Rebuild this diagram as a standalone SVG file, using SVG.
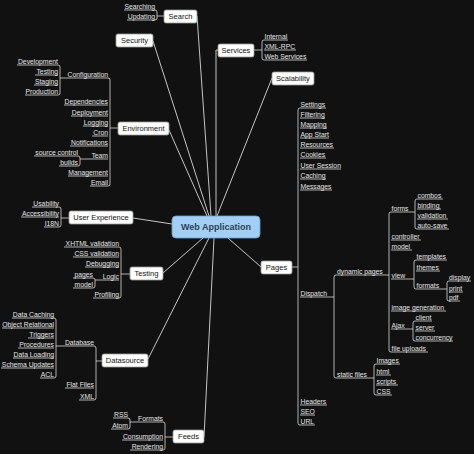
<svg xmlns="http://www.w3.org/2000/svg" width="474" height="454" viewBox="0 0 474 454">
<style>
.t{font-family:"Liberation Sans",Arial,sans-serif;font-size:6.8px;fill:#e6e6e6}
.e{text-anchor:end}
.u,.b,.c{fill:none;stroke:#d8d8d8;stroke-width:0.8}
.c{stroke-width:0.9}
.nb{fill:#ffffff;stroke:#9a9a9a;stroke-width:0.8}
.nt{font-family:"Liberation Sans",Arial,sans-serif;font-size:7.5px;fill:#111;text-anchor:middle}
</style>
<rect width="474" height="454" fill="#111111"/>
<g id="connectors">
<path class="c" d="M197 16L211 216"/>
<path class="c" d="M153 41L209 216"/>
<path class="c" d="M218 50H216V216"/>
<path class="c" d="M272 78L217 216"/>
<path class="c" d="M169 130L207 216"/>
<path class="c" d="M133 218L172 224"/>
<path class="c" d="M163 273L203 238"/>
<path class="c" d="M148 359L209 238"/>
<path class="c" d="M204 437L214 238"/>
<path class="c" d="M261 267L228 238"/>
<!-- brackets left -->
<path class="b" d="M155 10Q157 10 157 12V18Q157 20 155 20M157 16H164"/>
<path class="b" d="M108 78Q110 78 110 80V184Q110 186 108 186M110 128H118"/>
<path class="b" d="M58 65Q60 65 60 67V93Q60 95 58 95"/>
<path class="b" d="M78 156Q80 156 80 158V164Q80 166 78 166"/>
<path class="b" d="M59 207Q61 207 61 209V225Q61 227 59 227M61 218H69"/>
<path class="b" d="M119 247Q121 247 121 249V296Q121 298 119 298M121 274H130"/>
<path class="b" d="M93 278Q95 278 95 280V286Q95 288 93 288"/>
<path class="b" d="M94 346Q96 346 96 348V398Q96 400 94 400M96 361H102"/>
<path class="b" d="M54 318Q56 318 56 320V376Q56 378 54 378"/>
<path class="b" d="M163 422Q165 422 165 424V448Q165 450 163 450M165 437H173"/>
<path class="b" d="M128 418Q130 418 130 420V427Q130 429 128 429"/>
<!-- brackets right -->
<path class="b" d="M264 40Q262 40 262 42V58Q262 60 264 60M254 50H262"/>
<path class="b" d="M300 108Q298 108 298 110V423Q298 425 300 425M292 267H298"/>
<path class="b" d="M336 275Q334 275 334 277V376Q334 378 336 378"/>
<path class="b" d="M391 212Q389 212 389 214V350Q389 352 391 352"/>
<path class="b" d="M417 199Q415 199 415 201V227Q415 229 417 229"/>
<path class="b" d="M416 260Q414 260 414 262V287Q414 289 416 289"/>
<path class="b" d="M449 281Q447 281 447 283V299Q447 301 449 301"/>
<path class="b" d="M415 321Q413 321 413 323V339Q413 341 415 341"/>
<path class="b" d="M376 364Q374 364 374 366V393Q374 395 376 395"/>
</g>
<g id="n-web-application"><rect x="172" y="216" width="88" height="22" rx="4" fill="#a3cff5" stroke="#6f9fcf" stroke-width="0.8"/><text x="216" y="230" font-family="Liberation Sans,Arial,sans-serif" font-size="9" font-weight="bold" fill="#2b3f5c" text-anchor="middle">Web Application</text></g>
<g id="n-search"><rect class="nb" x="164" y="10" width="33" height="13" rx="2"/><text class="nt" x="180.5" y="19.2">Search</text></g>
<g id="n-security"><rect class="nb" x="116" y="34" width="37" height="13" rx="2"/><text class="nt" x="134.5" y="43.2">Security</text></g>
<g id="n-services"><rect class="nb" x="218" y="44" width="36" height="13" rx="2"/><text class="nt" x="236" y="53.2">Services</text></g>
<g id="n-scalability"><rect class="nb" x="272" y="72" width="42" height="13" rx="2"/><text class="nt" x="293" y="81.2">Scalability</text></g>
<g id="n-environment"><rect class="nb" x="118" y="122" width="51" height="13" rx="2"/><text class="nt" x="143.5" y="131.2">Environment</text></g>
<g id="n-user-experience"><rect class="nb" x="69" y="211" width="64" height="13" rx="2"/><text class="nt" x="101" y="220.2">User Experience</text></g>
<g id="n-testing"><rect class="nb" x="130" y="267" width="33" height="13" rx="2"/><text class="nt" x="146.5" y="276.2">Testing</text></g>
<g id="n-datasource"><rect class="nb" x="102" y="354" width="46" height="13" rx="2"/><text class="nt" x="125" y="363.2">Datasource</text></g>
<g id="n-feeds"><rect class="nb" x="173" y="430" width="31" height="13" rx="2"/><text class="nt" x="188.5" y="439.2">Feeds</text></g>
<g id="n-pages"><rect class="nb" x="261" y="261" width="31" height="13" rx="2"/><text class="nt" x="276.5" y="270.2">Pages</text></g>
<!-- Search leaves -->
<g id="l-searching"><text class="t e" x="155" y="8.6">Searching</text><path class="u" d="M124 10H155"/></g>
<g id="l-updating"><text class="t e" x="155" y="18.6">Updating</text><path class="u" d="M127 20H155"/></g>
<!-- Environment -->
<g id="l-configuration"><text class="t e" x="108" y="76.6">Configuration</text><path class="u" d="M60 78H108"/></g>
<g id="l-development"><text class="t e" x="58" y="63.6">Development</text><path class="u" d="M17 65H58"/></g>
<g id="l-testing"><text class="t e" x="58" y="73.6">Testing</text><path class="u" d="M35 75H58"/></g>
<g id="l-staging"><text class="t e" x="58" y="83.6">Staging</text><path class="u" d="M34 85H58"/></g>
<g id="l-production"><text class="t e" x="58" y="93.6">Production</text><path class="u" d="M25 95H58"/></g>
<g id="l-dependencies"><text class="t e" x="108" y="103.6">Dependencies</text><path class="u" d="M64 105H108"/></g>
<g id="l-deployment"><text class="t e" x="108" y="114.6">Deployment</text><path class="u" d="M71 116H108"/></g>
<g id="l-logging"><text class="t e" x="108" y="124.6">Logging</text><path class="u" d="M83 126H108"/></g>
<g id="l-cron"><text class="t e" x="108" y="134.6">Cron</text><path class="u" d="M92 136H108"/></g>
<g id="l-notifications"><text class="t e" x="108" y="144.6">Notifications</text><path class="u" d="M70 146H108"/></g>
<g id="l-team"><text class="t e" x="108" y="157.6">Team</text><path class="u" d="M80 159H108"/></g>
<g id="l-source-control"><text class="t e" x="78" y="154.6">source control</text><path class="u" d="M34 156H78"/></g>
<g id="l-builds"><text class="t e" x="78" y="164.6">builds</text><path class="u" d="M59 166H78"/></g>
<g id="l-management"><text class="t e" x="108" y="174.6">Management</text><path class="u" d="M68 176H108"/></g>
<g id="l-email"><text class="t e" x="108" y="184.6">Email</text><path class="u" d="M90 186H108"/></g>
<!-- User Experience -->
<g id="l-usability"><text class="t e" x="59" y="205.6">Usability</text><path class="u" d="M32 207H59"/></g>
<g id="l-accessibility"><text class="t e" x="59" y="215.6">Accessibility</text><path class="u" d="M21 217H59"/></g>
<g id="l-i18n"><text class="t e" x="59" y="225.6">I18N</text><path class="u" d="M44 227H59"/></g>
<!-- Testing -->
<g id="l-xhtml"><text class="t e" x="119" y="245.6">XHTML validation</text><path class="u" d="M64 247H119"/></g>
<g id="l-css-validation"><text class="t e" x="119" y="255.6">CSS validation</text><path class="u" d="M73 257H119"/></g>
<g id="l-debugging"><text class="t e" x="119" y="265.6">Debugging</text><path class="u" d="M85 267H119"/></g>
<g id="l-logic"><text class="t e" x="119" y="278.6">Logic</text><path class="u" d="M95 280H119"/></g>
<g id="l-pages"><text class="t e" x="93" y="276.6">pages</text><path class="u" d="M73 278H93"/></g>
<g id="l-model-t"><text class="t e" x="93" y="286.6">model</text><path class="u" d="M73 288H93"/></g>
<g id="l-profiling"><text class="t e" x="119" y="296.6">Profiling</text><path class="u" d="M93 298H119"/></g>
<!-- Datasource -->
<g id="l-database"><text class="t e" x="94" y="344.6">Database</text><path class="u" d="M56 346H94"/></g>
<g id="l-data-caching"><text class="t e" x="54" y="316.6">Data Caching</text><path class="u" d="M12 318H54"/></g>
<g id="l-object-relational"><text class="t e" x="54" y="326.6">Object Relational</text><path class="u" d="M2 328H54"/></g>
<g id="l-triggers"><text class="t e" x="54" y="336.6">Triggers</text><path class="u" d="M28 338H54"/></g>
<g id="l-procedures"><text class="t e" x="54" y="346.6">Procedures</text><path class="u" d="M18 348H54"/></g>
<g id="l-data-loading"><text class="t e" x="54" y="356.6">Data Loading</text><path class="u" d="M13 358H54"/></g>
<g id="l-schema-updates"><text class="t e" x="54" y="366.6">Schema Updates</text><path class="u" d="M1 368H54"/></g>
<g id="l-acl"><text class="t e" x="54" y="376.6">ACL</text><path class="u" d="M40 378H54"/></g>
<g id="l-flat-files"><text class="t e" x="94" y="386.6">Flat Files</text><path class="u" d="M65 388H94"/></g>
<g id="l-xml"><text class="t e" x="94" y="398.6">XML</text><path class="u" d="M79 400H94"/></g>
<!-- Feeds -->
<g id="l-formats-f"><text class="t e" x="163" y="420.6">Formats</text><path class="u" d="M130 422H163"/></g>
<g id="l-rss"><text class="t e" x="128" y="416.6">RSS</text><path class="u" d="M113 418H128"/></g>
<g id="l-atom"><text class="t e" x="128" y="427.6">Atom</text><path class="u" d="M111 429H128"/></g>
<g id="l-consumption"><text class="t e" x="163" y="438.6">Consumption</text><path class="u" d="M122 440H163"/></g>
<g id="l-rendering"><text class="t e" x="163" y="448.6">Rendering</text><path class="u" d="M130 450H163"/></g>
<!-- Services -->
<g id="l-internal"><text class="t" x="264.5" y="38.6">Internal</text><path class="u" d="M264 40H288"/></g>
<g id="l-xml-rpc"><text class="t" x="264.5" y="48.6">XML-RPC</text><path class="u" d="M264 50H296"/></g>
<g id="l-web-services"><text class="t" x="264.5" y="58.6">Web Services</text><path class="u" d="M264 60H307"/></g>
<!-- Pages -->
<g id="l-settings"><text class="t" x="300.5" y="106.6">Settings</text><path class="u" d="M300 108H326"/></g>
<g id="l-filtering"><text class="t" x="300.5" y="116.6">Filtering</text><path class="u" d="M300 118H325"/></g>
<g id="l-mapping"><text class="t" x="300.5" y="126.6">Mapping</text><path class="u" d="M300 128H327"/></g>
<g id="l-app-start"><text class="t" x="300.5" y="136.6">App Start</text><path class="u" d="M300 138H329"/></g>
<g id="l-resources"><text class="t" x="300.5" y="146.6">Resources</text><path class="u" d="M300 148H334"/></g>
<g id="l-cookies"><text class="t" x="300.5" y="156.6">Cookies</text><path class="u" d="M300 158H326"/></g>
<g id="l-user-session"><text class="t" x="300.5" y="167.6">User Session</text><path class="u" d="M300 169H341"/></g>
<g id="l-caching"><text class="t" x="300.5" y="177.6">Caching</text><path class="u" d="M300 179H326"/></g>
<g id="l-messages"><text class="t" x="300.5" y="188.6">Messages</text><path class="u" d="M300 190H332"/></g>
<g id="l-dispatch"><text class="t" x="300.5" y="295.6">Dispatch</text><path class="u" d="M300 297H334"/></g>
<g id="l-headers"><text class="t" x="300.5" y="403.6">Headers</text><path class="u" d="M300 405H327"/></g>
<g id="l-seo"><text class="t" x="300.5" y="413.6">SEO</text><path class="u" d="M300 415H315"/></g>
<g id="l-url"><text class="t" x="300.5" y="423.6">URL</text><path class="u" d="M300 425H315"/></g>
<!-- Dispatch -->
<g id="l-dynamic-pages"><text class="t" x="337" y="273.6">dynamic pages</text><path class="u" d="M336 275H389"/></g>
<g id="l-static-files"><text class="t" x="337" y="376.6">static files</text><path class="u" d="M336 378H374"/></g>
<!-- dynamic pages -->
<g id="l-forms"><text class="t" x="391.5" y="210.6">forms</text><path class="u" d="M391 212H415"/></g>
<g id="l-combos"><text class="t" x="417.5" y="197.6">combos</text><path class="u" d="M417 199H443"/></g>
<g id="l-binding"><text class="t" x="417.5" y="207.6">binding</text><path class="u" d="M417 209H441"/></g>
<g id="l-validation"><text class="t" x="417.5" y="217.6">validation</text><path class="u" d="M417 219H448"/></g>
<g id="l-auto-save"><text class="t" x="417.5" y="227.6">auto-save</text><path class="u" d="M417 229H449"/></g>
<g id="l-controller"><text class="t" x="391.5" y="238.6">controller</text><path class="u" d="M391 240H421"/></g>
<g id="l-model"><text class="t" x="391.5" y="248.6">model</text><path class="u" d="M391 250H412"/></g>
<g id="l-view"><text class="t" x="391.5" y="277.6">view</text><path class="u" d="M391 279H414"/></g>
<g id="l-templates"><text class="t" x="416.5" y="258.6">templates</text><path class="u" d="M416 260H447"/></g>
<g id="l-themes"><text class="t" x="416.5" y="269.6">themes</text><path class="u" d="M416 271H440"/></g>
<g id="l-formats"><text class="t" x="416.5" y="287.6">formats</text><path class="u" d="M416 289H447"/></g>
<g id="l-display"><text class="t" x="449" y="279.6">display</text><path class="u" d="M449 281H471"/></g>
<g id="l-print"><text class="t" x="449" y="290.6">print</text><path class="u" d="M449 292H463"/></g>
<g id="l-pdf"><text class="t" x="449" y="299.6">pdf</text><path class="u" d="M449 301H460"/></g>
<g id="l-image-generation"><text class="t" x="391.5" y="309.6">image generation</text><path class="u" d="M391 311H446"/></g>
<g id="l-ajax"><text class="t" x="391.5" y="327.6">Ajax</text><path class="u" d="M391 329H413"/></g>
<g id="l-client"><text class="t" x="415.5" y="319.6">client</text><path class="u" d="M415 321H432"/></g>
<g id="l-server"><text class="t" x="415.5" y="329.6">server</text><path class="u" d="M415 331H435"/></g>
<g id="l-concurrency"><text class="t" x="415.5" y="339.6">concurrency</text><path class="u" d="M415 341H453"/></g>
<g id="l-file-uploads"><text class="t" x="391.5" y="350.6">file uploads</text><path class="u" d="M391 352H428"/></g>
<!-- static files -->
<g id="l-images"><text class="t" x="376.5" y="362.6">Images</text><path class="u" d="M376 364H400"/></g>
<g id="l-html"><text class="t" x="376.5" y="373.6">html</text><path class="u" d="M376 375H391"/></g>
<g id="l-scripts"><text class="t" x="376.5" y="383.6">scripts</text><path class="u" d="M376 385H398"/></g>
<g id="l-css"><text class="t" x="376.5" y="393.6">CSS</text><path class="u" d="M376 395H392"/></g>
</svg>
